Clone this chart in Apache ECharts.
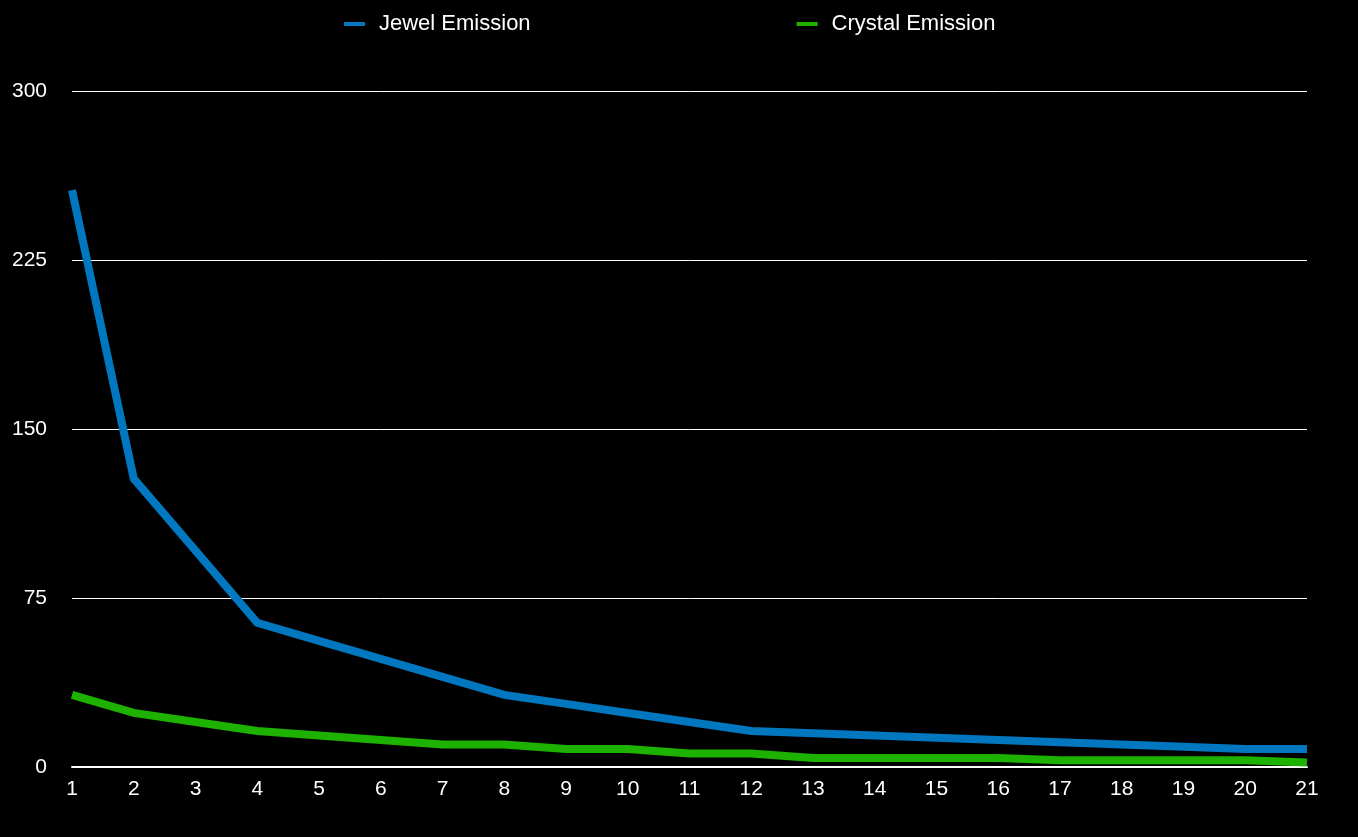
<!DOCTYPE html>
<html>
<head>
<meta charset="utf-8">
<script src="https://cdn.jsdelivr.net/npm/echarts@6/dist/echarts.min.js"></script>
<style>html,body{margin:0;padding:0;background:#000;}#c{width:1358px;height:837px;}</style>
</head>
<body>
<div id="c"></div>
<script>
const categories = ['1','2','3','4','5','6','7','8','9','10','11','12','13','14','15','16','17','18','19','20','21'];
const jewelEmission = [256,128,96,64,56,48,40,32,28,24,20,16,15,14,13,12,11,10,9,8,8];
const crystalEmission = [32,24,20,16,14,12,10,10,8,8,6,6,4,4,4,4,3,3,3,3,2];
const yTicks = [0,75,150,225,300];

const chart = echarts.init(document.getElementById('c'));
const font = 'Helvetica, "Liberation Sans", Arial, sans-serif';
chart.setOption({
  backgroundColor: '#000',
  animation: false,
  legend: {
    top: 8,
    left: 339,
    itemGap: 266,
    itemWidth: 21,
    itemHeight: 4,
    icon: 'rect',
    textStyle: {color: '#fff', fontSize: 22, fontFamily: font, padding: [0, 0, 0, 9]},
    data: ['Jewel Emission','Crystal Emission']
  },
  grid: {left: 72, right: 51, top: 91, bottom: 70},
  xAxis: {
    type: 'category',
    data: categories,
    boundaryGap: false,
    axisLine: {show: true, lineStyle: {color: '#fff', width: 2}},
    axisTick: {show: false},
    axisLabel: {color: '#fff', fontSize: 21, fontFamily: font, margin: 12}
  },
  yAxis: {
    type: 'value',
    min: yTicks[0],
    max: yTicks[yTicks.length-1],
    interval: 75,
    axisLine: {show: false},
    axisTick: {show: false},
    splitLine: {lineStyle: {color: '#fff', width: 1}},
    axisLabel: {color: '#fff', fontSize: 21, fontFamily: font, margin: 25}
  },
  series: [
    {name: 'Jewel Emission', type: 'line', data: jewelEmission, symbol: 'none',
     lineStyle: {color: '#0077bf', width: 8, join: 'miter'}, itemStyle: {color: '#0077bf'}},
    {name: 'Crystal Emission', type: 'line', data: crystalEmission, symbol: 'none',
     lineStyle: {color: '#1db100', width: 8, join: 'miter'}, itemStyle: {color: '#1db100'}}
  ]
});
</script>
</body>
</html>
